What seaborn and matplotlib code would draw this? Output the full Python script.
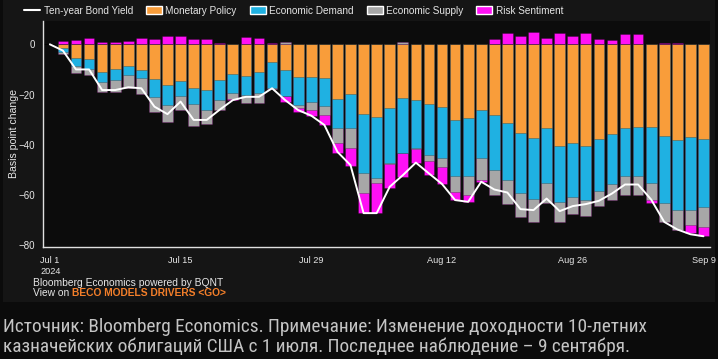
import matplotlib
matplotlib.use("Agg")
import matplotlib.pyplot as plt
import seaborn as sns
import numpy as np
from matplotlib.patches import Patch, Rectangle
from matplotlib.lines import Line2D

# ---------------- data (basis points, business days Jul 1 .. Sep 9, 2024) -------------
tick_pos = [0, 10, 20, 30, 40, 50]
tick_labels = ["Jul 1", "Jul 15", "Jul 29", "Aug 12", "Aug 26", "Sep 9"]
y_ticks = [0, -20, -40, -60, -80]

bond_yield = [0, -2.5, -10.0, -10.0, -18.2, -18.2, -17.1, -17.5, -24.8, -27.8, -22.8,
              -30.1, -30.1, -26.0, -22.2, -20.9, -20.9, -17.5, -22.2, -26.2, -28.4,
              -32.1, -42.8, -48.1, -67.2, -67.2, -56.7, -52.1, -47.1, -51.4, -55.6,
              -62.0, -62.7, -54.7, -57.8, -59.0, -65.6, -66.0, -61.4, -66.4, -64.4,
              -63.6, -62.3, -59.4, -55.8, -55.8, -61.8, -70.7, -73.7, -75.6, -76.4]
monetary = [0, -1.3, -5.3, -6.0, -10.9, -10.0, -8.5, -10.2, -13.8, -16.2, -14.6,
            -17.5, -18.3, -14.4, -11.8, -12.5, -11.2, -7.2, -10.2, -13.1, -13.0,
            -13.5, -21.9, -19.9, -27.9, -28.8, -25.5, -21.5, -22.2, -23.8, -25.1,
            -30.1, -29.2, -26.2, -28.2, -31.5, -35.5, -37.2, -33.2, -40.5, -39.4,
            -40.4, -37.5, -35.7, -33.2, -33.1, -32.8, -36.5, -38.1, -36.8, -37.7]
demand = [0, -1.6, -3.3, -3.8, -4.0, -4.2, -3.7, -3.3, -7.0, -8.0, -5.9,
          -6.4, -7.7, -7.6, -7.5, -7.5, -8.0, -10.3, -10.4, -11.0, -9.8,
          -11.1, -11.3, -13.6, -23.2, -24.6, -21.6, -21.9, -19.2, -20.3, -20.3,
          -22.4, -23.1, -19.0, -21.9, -22.5, -23.6, -24.4, -22.2, -22.4, -21.3,
          -21.6, -20.8, -19.9, -19.1, -19.2, -22.6, -26.6, -27.9, -29.2, -27.2]
supply = [0, -1.1, -2.7, -2.4, -4.2, -4.9, -5.3, -6.4, -6.0, -6.9, -5.7,
          -8.5, -5.8, -4.3, -2.5, -3.2, -4.0, -0.4, 1.0, -1.4, -3.3,
          -3.6, -6.2, -7.9, -8.0, -2.0, -0.6, 1.1, -0.4, -2.4, -3.3,
          -6.2, -7.7, -8.8, -9.7, -9.6, -9.8, -9.3, -7.9, -7.8, -7.0,
          -6.3, -6.1, -6.2, -7.5, -7.5, -6.6, -7.8, -8.0, -6.0, -7.7]
risk = [0, 1.3, 1.7, 2.4, 1.1, 1.1, 1.5, 2.7, 2.1, 3.5, 3.5,
        2.1, 2.0, 0.7, -0.5, 2.8, 2.5, 0.7, -2.2, -1.3, -2.5,
        -3.9, -3.8, -7.1, -8.1, -11.9, -9.3, -9.6, -5.3, -5.6, -6.9,
        -3.3, -2.7, -0.7, 2.0, 4.6, 3.5, 5.0, 2.4, 4.6, 3.5,
        4.4, 2.0, 1.7, 4.0, 4.1, -1.1, 0.4, 0.4, -3.3, -3.6]

ORANGE = "#F99D3A"
BLUE = "#1FB1E2"
GREY = "#A7A7A7"
MAGENTA = "#FF10F5"
TEXT = "#E6E6E6"

# ---------------- figure ---------------------------------------------------------------
W, H = 718, 359
sns.set_theme(style="dark")
plt.rcParams["font.family"] = ["Liberation Sans", "DejaVu Sans"]
plt.rcParams["axes.unicode_minus"] = True

fig = plt.figure(figsize=(W / 100, H / 100), dpi=100, facecolor="#0b0b0b")
fig.patches.append(Rectangle((3 / W, 1 - 302 / H), 712 / W, 302 / H,
                             transform=fig.transFigure, facecolor="#151515",
                             edgecolor="none", zorder=-10))

x0, x1, ytop, ybot = 43.3, 710, 20.7, 247.3
ax = fig.add_axes([x0 / W, 1 - ybot / H, (x1 - x0) / W, (ybot - ytop) / H])
ax.set_zorder(1)
ax.set_facecolor("#0c0c0c")

idx = np.arange(len(bond_yield))
mon = np.array(monetary)
dem = np.array(demand)
sup = np.array(supply)
rsk = np.array(risk)

c_orange = mon
c_blue = c_orange + dem
c_grey = c_blue + np.minimum(sup, 0)
c_mag = c_grey + np.minimum(rsk, 0)
p_sup = np.maximum(sup, 0)
p_top = p_sup + np.maximum(rsk, 0)

bw = 0.82
for vals, col in [(c_mag, MAGENTA), (c_grey, GREY), (c_blue, BLUE), (c_orange, ORANGE),
                  (p_top, MAGENTA), (p_sup, GREY)]:
    sns.barplot(x=idx, y=vals, color=col, saturation=1, width=bw, ax=ax,
                errorbar=None, linewidth=0.5, edgecolor="#00000055", zorder=2)

sns.lineplot(x=idx, y=bond_yield, color="white", linewidth=1.4, ax=ax, zorder=5)

ax.set_xlim(-0.5, 50.5)
ax.set_ylim(-80.8, 9.4)
ax.set_xticks(tick_pos)
ax.set_xticklabels(tick_labels)
ax.set_yticks(y_ticks)
ax.set_yticklabels([f"{v:d}".replace("-", "\u2212") for v in y_ticks])
ax.grid(False)
for s in ["top", "right"]:
    ax.spines[s].set_visible(False)
for s in ["left", "bottom"]:
    ax.spines[s].set_visible(True)
    ax.spines[s].set_color("#E0E0E0")
    ax.spines[s].set_linewidth(1.0)
ax.tick_params(axis="both", colors=TEXT, labelsize=7, length=4, width=0.8,
               direction="out", pad=2)
ax.tick_params(axis="x", labelsize=6.6, length=4, pad=2)
ax.set_xlabel("")
ax.set_ylabel("Basis point change", color=TEXT, fontsize=7.6, labelpad=-0.8)

# year under first tick
fig.text(40.5 / W, 1 - 273.5 / H, "2024", color=TEXT, fontsize=6.6, ha="left",
         va="baseline")

# legend
handles = [Line2D([0], [0], color="white", lw=1.5),
           Patch(facecolor=ORANGE), Patch(facecolor=BLUE),
           Patch(facecolor=GREY), Patch(facecolor=MAGENTA)]
labels = ["Ten-year Bond Yield", "Monetary Policy", "Economic Demand",
          "Economic Supply", "Risk Sentiment"]
leg = fig.legend(handles, labels, loc="center left",
                 bbox_to_anchor=(24 / W, 1 - 10.5 / H), ncol=5, frameon=False,
                 fontsize=7.2, handlelength=1.6, handleheight=0.8,
                 handletextpad=0.35, columnspacing=1.3, borderpad=0,
                 borderaxespad=0)
for t in leg.get_texts():
    t.set_color(TEXT)

# source footer
fig.text(33 / W, 1 - 285.5 / H, "Bloomberg Economics powered by BQNT", color=TEXT,
         fontsize=7.4, ha="left", va="baseline")
t1 = fig.text(33 / W, 1 - 296 / H, "View on ", color=TEXT, fontsize=7.4, ha="left",
              va="baseline")
fig.canvas.draw()
bb = t1.get_window_extent()
fig.text(bb.x1 / W, 1 - 296 / H, "BECO MODELS DRIVERS <GO>", color="#F47F2A",
         fontsize=7.4, fontweight="bold", ha="left", va="baseline")

# caption
cap_font = ["Roboto Condensed", "DejaVu Sans Condensed", "Liberation Sans Narrow",
            "Roboto", "DejaVu Sans"]
fig.text(3 / W, 1 - 332 / H,
         "Источник: Bloomberg Economics. Примечание: Изменение доходности 10-летних",
         color="#C4C4C4", fontsize=13.9, family=cap_font, ha="left", va="baseline")
fig.text(3 / W, 1 - 352.5 / H,
         "казначейских облигаций США с 1 июля. Последнее наблюдение – 9 сентября.",
         color="#C4C4C4", fontsize=13.9, family=cap_font, ha="left", va="baseline")

fig.savefig("out.png", dpi=100, facecolor=fig.get_facecolor())
